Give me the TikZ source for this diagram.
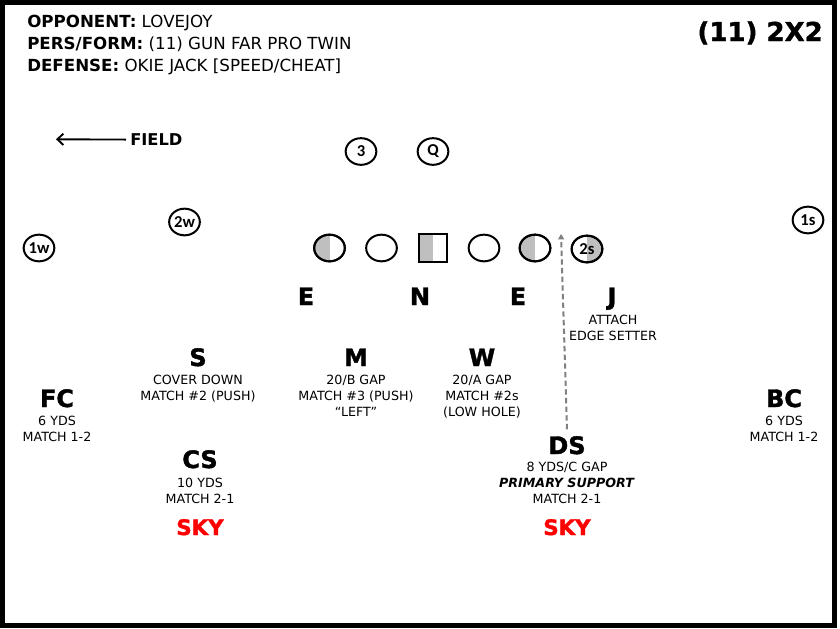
\documentclass[tikz,border=0pt]{standalone}
\usepackage{fontspec}
\setmainfont{DejaVu Sans}
\newfontfamily\circfont{Carlito}
\newfontfamily\heavyfont{DejaVu Sans}[BoldFeatures={FakeBold=1.6}]
\usetikzlibrary{arrows.meta,shapes.geometric}
\definecolor{shadegray}{HTML}{BFBFBF}
\definecolor{dashgray}{HTML}{808080}
\definecolor{skyred}{HTML}{FF0000}
\begin{document}
\begin{tikzpicture}[x=0.75pt,y=-0.75pt,
 hdr/.style={anchor=base west,inner sep=0,font=\fontsize{12.5}{14}\selectfont},
 biglet/.style={anchor=base,inner sep=0,font=\heavyfont\bfseries\fontsize{18}{20}\selectfont},
 desc/.style={anchor=north,inner sep=0,align=center,font=\fontsize{9.5}{11.8}\selectfont},
 sky/.style={anchor=base,inner sep=0,text=skyred,font=\heavyfont\bfseries\fontsize{16}{18}\selectfont},
 player/.style={draw,ellipse,line width=1.5pt,minimum width=23pt,minimum height=20pt,inner sep=0,
   font=\circfont\bfseries\fontsize{12.5}{13}\selectfont},
 center/.style={draw,rectangle,line width=1.5pt,minimum width=21pt,minimum height=21pt,inner sep=0},
 halfL/.style={path picture={\fill[shadegray] (path picture bounding box.south west) rectangle (path picture bounding box.north);},
   postaction={draw,line width=1.5pt}},
 halfR/.style={path picture={\fill[shadegray] (path picture bounding box.south) rectangle (path picture bounding box.north east);},
   postaction={draw,line width=1.5pt}},
 dasharrow/.style={draw=dashgray,line width=1.5pt,dash pattern=on 4pt off 2.5pt,
   -{Triangle[length=4pt,width=4.5pt]}},
 fieldarrow/.style={line width=1.4pt,-{Straight Barb[length=4.5pt,width=8.5pt]}}
]
\useasboundingbox (0,0) rectangle (840,629);
\draw[line width=3.75pt] (2.5,2.5) rectangle (834.5,625.5);

% header
\node[hdr] (opp) at (27,27) {\textbf{OPPONENT:} LOVEJOY};
\node[hdr] (pers) at (27,49) {\textbf{PERS/FORM:} (11) GUN FAR PRO TWIN};
\node[hdr] (def) at (27,71) {\textbf{DEFENSE:} OKIE JACK [SPEED/CHEAT]};
\node[anchor=base east,inner sep=0,font=\heavyfont\bfseries\fontsize{19.5}{22}\selectfont] (grp) at (823,41) {(11) 2X2};

% field arrow
\node[anchor=base west,inner sep=0,font=\bfseries\fontsize{12.2}{14}\selectfont] (field) at (130,145.5) {FIELD};
\coordinate (fieldTip) at (56,139.3);
\draw[fieldarrow] ([xshift=-3pt]field.west) -- (fieldTip);

% offense
\node[player] (p3) at (361,151.5) {3};
\node[player] (pq) at (433,151.5) {Q};
\node[player] (w2) at (184.5,222) {2w};
\node[player] (w1) at (39,248) {1w};
\node[player] (s1) at (808,220) {1s};
\node[player,halfL] (lt) at (329.5,248) {};
\node[player] (lg) at (381.5,248) {};
\node[center,halfL] (ctr) at (433,248) {};
\node[player] (rg) at (484,248) {};
\node[player,halfL] (rt) at (535,248) {};
\node[player,halfR] (s2) at (587,249) {2s};

% front
\node[biglet] (E1) at (306,305) {E};
\node[biglet] (N) at (420,305) {N};
\node[biglet] (E2) at (518,305) {E};
\node[biglet] (J) at (612,305) {J};
\node[desc] (Jd) at (613,315) {ATTACH\\EDGE SETTER};

% second level
\node[biglet] (S) at (198,366) {S};
\node[desc] (Sd) at (198,375) {COVER DOWN\\MATCH \#2 (PUSH)};
\node[biglet] (M) at (356,366) {M};
\node[desc] (Md) at (356,375) {20/B GAP\\MATCH \#3 (PUSH)\\“LEFT”};
\node[biglet] (W) at (482,366) {W};
\node[desc] (Wd) at (482,375) {20/A GAP\\MATCH \#2s\\(LOW HOLE)};

% corners
\node[biglet] (FC) at (57,407) {FC};
\node[desc] (FCd) at (57,416) {6 YDS\\MATCH 1-2};
\node[biglet] (BC) at (784,407) {BC};
\node[desc] (BCd) at (784,416) {6 YDS\\MATCH 1-2};

% safeties
\node[biglet] (CS) at (200,468) {CS};
\node[desc] (CSd) at (200,478) {10 YDS\\MATCH 2-1};
\node[sky] (CSsky) at (200,535) {SKY};
\node[biglet,inner sep=2pt] (DS) at (567,454) {DS};
\node[desc] (DSd) at (567,462) {8 YDS/C GAP\\\textbf{\textit{PRIMARY SUPPORT}}\\MATCH 2-1};
\node[sky] (DSsky) at (567,535) {SKY};

\coordinate (dsTop) at (561,234);
\draw[dasharrow] ([yshift=3pt]DS.north) -- (dsTop);
\end{tikzpicture}
\end{document}
